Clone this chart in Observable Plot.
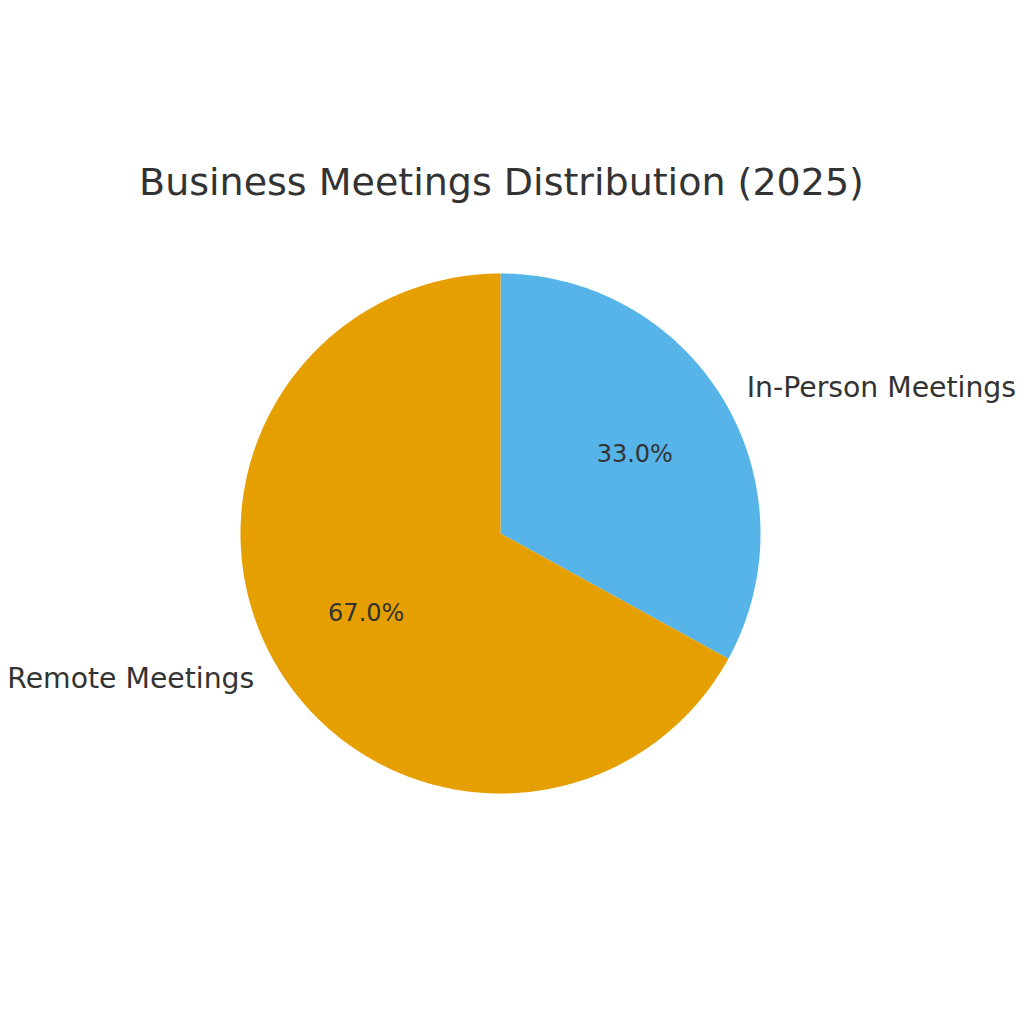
<!DOCTYPE html>
<html>
<head>
<meta charset="utf-8">
<script src="https://cdn.jsdelivr.net/npm/d3@7"></script>
<script src="https://cdn.jsdelivr.net/npm/@observablehq/plot@0.6"></script>
<style>
  html, body { margin: 0; padding: 0; background: #fff; }
  #chart { width: 1024px; height: 1024px; }
</style>
</head>
<body>
<div id="chart"></div>
<script>
const categories = ["In-Person Meetings", "Remote Meetings"];
const shares = [33.0, 67.0];
const colors = ["#56B4E9", "#E69F00"];
const titleText = "Business Meetings Distribution (2025)";

// Build slice polygons (clockwise from 12 o'clock), unit radius
const total = d3.sum(shares);
const slicePts = [];
const labels = [];
let a = 0;
categories.forEach((c, i) => {
  const span = shares[i] / total * 2 * Math.PI;
  const a0 = a, a1 = a + span;
  slicePts.push({cat: c, x: 0, y: 0, k: 0});
  const n = Math.max(2, Math.ceil(span / (Math.PI / 360)));
  for (let j = 0; j <= n; j++) {
    const t = a0 + (a1 - a0) * j / n;
    slicePts.push({cat: c, x: Math.sin(t), y: Math.cos(t), k: j + 1});
  }
  slicePts.push({cat: c, x: 0, y: 0, k: n + 2});
  const m = (a0 + a1) / 2;
  labels.push({
    cat: c,
    lx: 1.1 * Math.sin(m), ly: 1.1 * Math.cos(m),
    px: 0.6 * Math.sin(m), py: 0.6 * Math.cos(m),
    pct: shares[i].toFixed(1) + "%",
    anchor: Math.sin(m) >= 0 ? "start" : "end"
  });
  a = a1;
});

const R = 260, W = 1024, H = 1024, cx = 500, cy = 533;

const plot = Plot.plot({
  width: W,
  height: H,
  margin: 0,
  x: {domain: [-cx / R, (W - cx) / R], axis: null},
  y: {domain: [-(H - cy) / R, cy / R], axis: null},
  color: {domain: categories, range: colors},
  style: {fontFamily: "DejaVu Sans, sans-serif", background: "#fff"},
  marks: [
    Plot.line(slicePts, {x: "x", y: "y", z: "cat", fill: "cat", stroke: "none", curve: "linear"}),
    Plot.text(labels.filter(d => d.anchor === "start"), {x: "lx", y: "ly", text: "cat", textAnchor: "start", fontSize: 28.3, fill: "#333333"}),
    Plot.text(labels.filter(d => d.anchor === "end"), {x: "lx", y: "ly", text: "cat", textAnchor: "end", fontSize: 28.3, fill: "#333333"}),
    Plot.text(labels, {x: "px", y: "py", text: "pct", fontSize: 24, fill: "#333333"}),
    Plot.text([titleText], {frameAnchor: "top", lineAnchor: "middle", dy: 182, dx: -11, text: d => d, fontSize: 38, fill: "#333333"})
  ]
});
document.getElementById("chart").appendChild(plot);
</script>
</body>
</html>
